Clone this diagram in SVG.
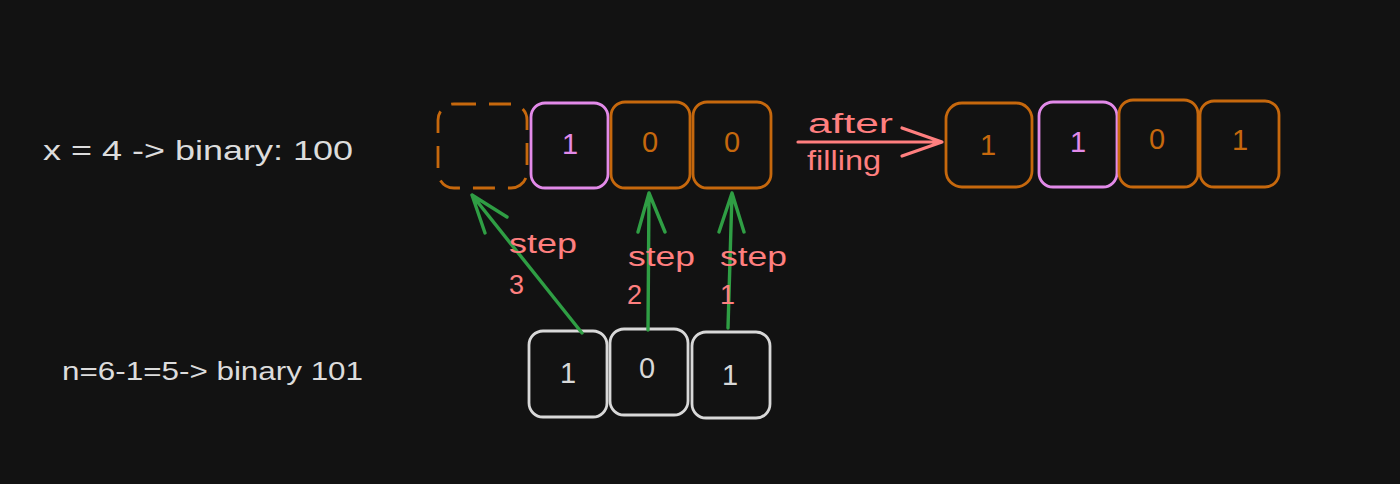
<svg xmlns="http://www.w3.org/2000/svg" width="1400" height="484" viewBox="0 0 1400 484">
<defs>
<style>
.bg{fill:#121212}
.box{fill:none;stroke-width:2.8;stroke-linejoin:round}
.or{stroke:#c6680d}
.pu{stroke:#e28ae9}
.wh{stroke:#d8d8d8}
.dash{stroke-dasharray:22 13}
.t{font-family:"Liberation Sans","DejaVu Sans",sans-serif;text-anchor:middle;dominant-baseline:central}
.d{font-size:29px}
.tor{fill:#c6680d}
.tpu{fill:#e28ae9}
.twh{fill:#d8d8d8}
.lbl{font-family:"Liberation Sans","DejaVu Sans",sans-serif;fill:#dcdcdc}
.red{font-family:"Liberation Sans","DejaVu Sans",sans-serif;fill:#ff7f7f;font-size:27px}
.g{fill:none;stroke:#2f9e44;stroke-width:3.4;stroke-linecap:round;stroke-linejoin:round}
.r{fill:none;stroke:#ff7f7f;stroke-width:3.2;stroke-linecap:round;stroke-linejoin:round}
</style>
</defs>
<rect class="bg" x="0" y="0" width="1400" height="484"/>

<g id="label-x">
<text class="lbl" x="43" y="160" font-size="28" textLength="310" lengthAdjust="spacingAndGlyphs">x = 4 -&gt; binary: 100</text>
</g>
<g id="label-n">
<text class="lbl" x="62" y="380" font-size="25" textLength="301" lengthAdjust="spacingAndGlyphs">n=6-1=5-&gt; binary 101</text>
</g>

<g id="top-empty">
<rect class="box or dash" x="438" y="104" width="89" height="84" rx="16"/>
</g>
<g id="top-1">
<rect class="box pu" x="531" y="103" width="77" height="85" rx="14"/>
<text class="t d tpu" x="570" y="144">1</text>
</g>
<g id="top-0a">
<rect class="box or" x="611" y="102" width="79" height="86" rx="14"/>
<text class="t d tor" x="650" y="142">0</text>
</g>
<g id="top-0b">
<rect class="box or" x="693" y="102" width="78" height="86" rx="14"/>
<text class="t d tor" x="732" y="142">0</text>
</g>

<g id="res-1a">
<rect class="box or" x="946" y="103" width="86" height="84" rx="16"/>
<text class="t d tor" x="988" y="145">1</text>
</g>
<g id="res-1b">
<rect class="box pu" x="1039" y="102" width="78" height="85" rx="14"/>
<text class="t d tpu" x="1078" y="142">1</text>
</g>
<g id="res-0">
<rect class="box or" x="1119" y="100" width="79" height="87" rx="14"/>
<text class="t d tor" x="1157" y="139">0</text>
</g>
<g id="res-1c">
<rect class="box or" x="1200" y="101" width="79" height="86" rx="14"/>
<text class="t d tor" x="1240" y="140">1</text>
</g>

<g id="bot-1a">
<rect class="box wh" x="529" y="331" width="78" height="86" rx="14"/>
<text class="t d twh" x="568" y="373">1</text>
</g>
<g id="bot-0">
<rect class="box wh" x="610" y="329" width="78" height="86" rx="14"/>
<text class="t d twh" x="647" y="368">0</text>
</g>
<g id="bot-1b">
<rect class="box wh" x="692" y="332" width="78" height="86" rx="14"/>
<text class="t d twh" x="730" y="375">1</text>
</g>

<g id="connectors">
<path class="g" d="M582 333 L472 195 M485 233 L472 195 L507 217"/>
<path class="g" d="M648 330 L649 193 M638 232 L649 193 L665 232"/>
<path class="g" d="M728 328 L732 193 M719 232 L732 193 L744 232"/>
<path class="r" d="M798 142 L942 142 M902 128 L942 142 L902 156"/>
</g>

<g id="labels">
<text class="red" x="509" y="253" textLength="68" lengthAdjust="spacingAndGlyphs">step</text>
<text class="red" x="509" y="294">3</text>
<text class="red" x="628" y="266" textLength="67" lengthAdjust="spacingAndGlyphs">step</text>
<text class="red" x="627" y="304">2</text>
<text class="red" x="720" y="266" textLength="67" lengthAdjust="spacingAndGlyphs">step</text>
<text class="red" x="720" y="304">1</text>
<text class="red" x="808" y="133" textLength="85" lengthAdjust="spacingAndGlyphs">after</text>
<text class="red" x="807" y="170" textLength="74" lengthAdjust="spacingAndGlyphs">filling</text>
</g>
</svg>
